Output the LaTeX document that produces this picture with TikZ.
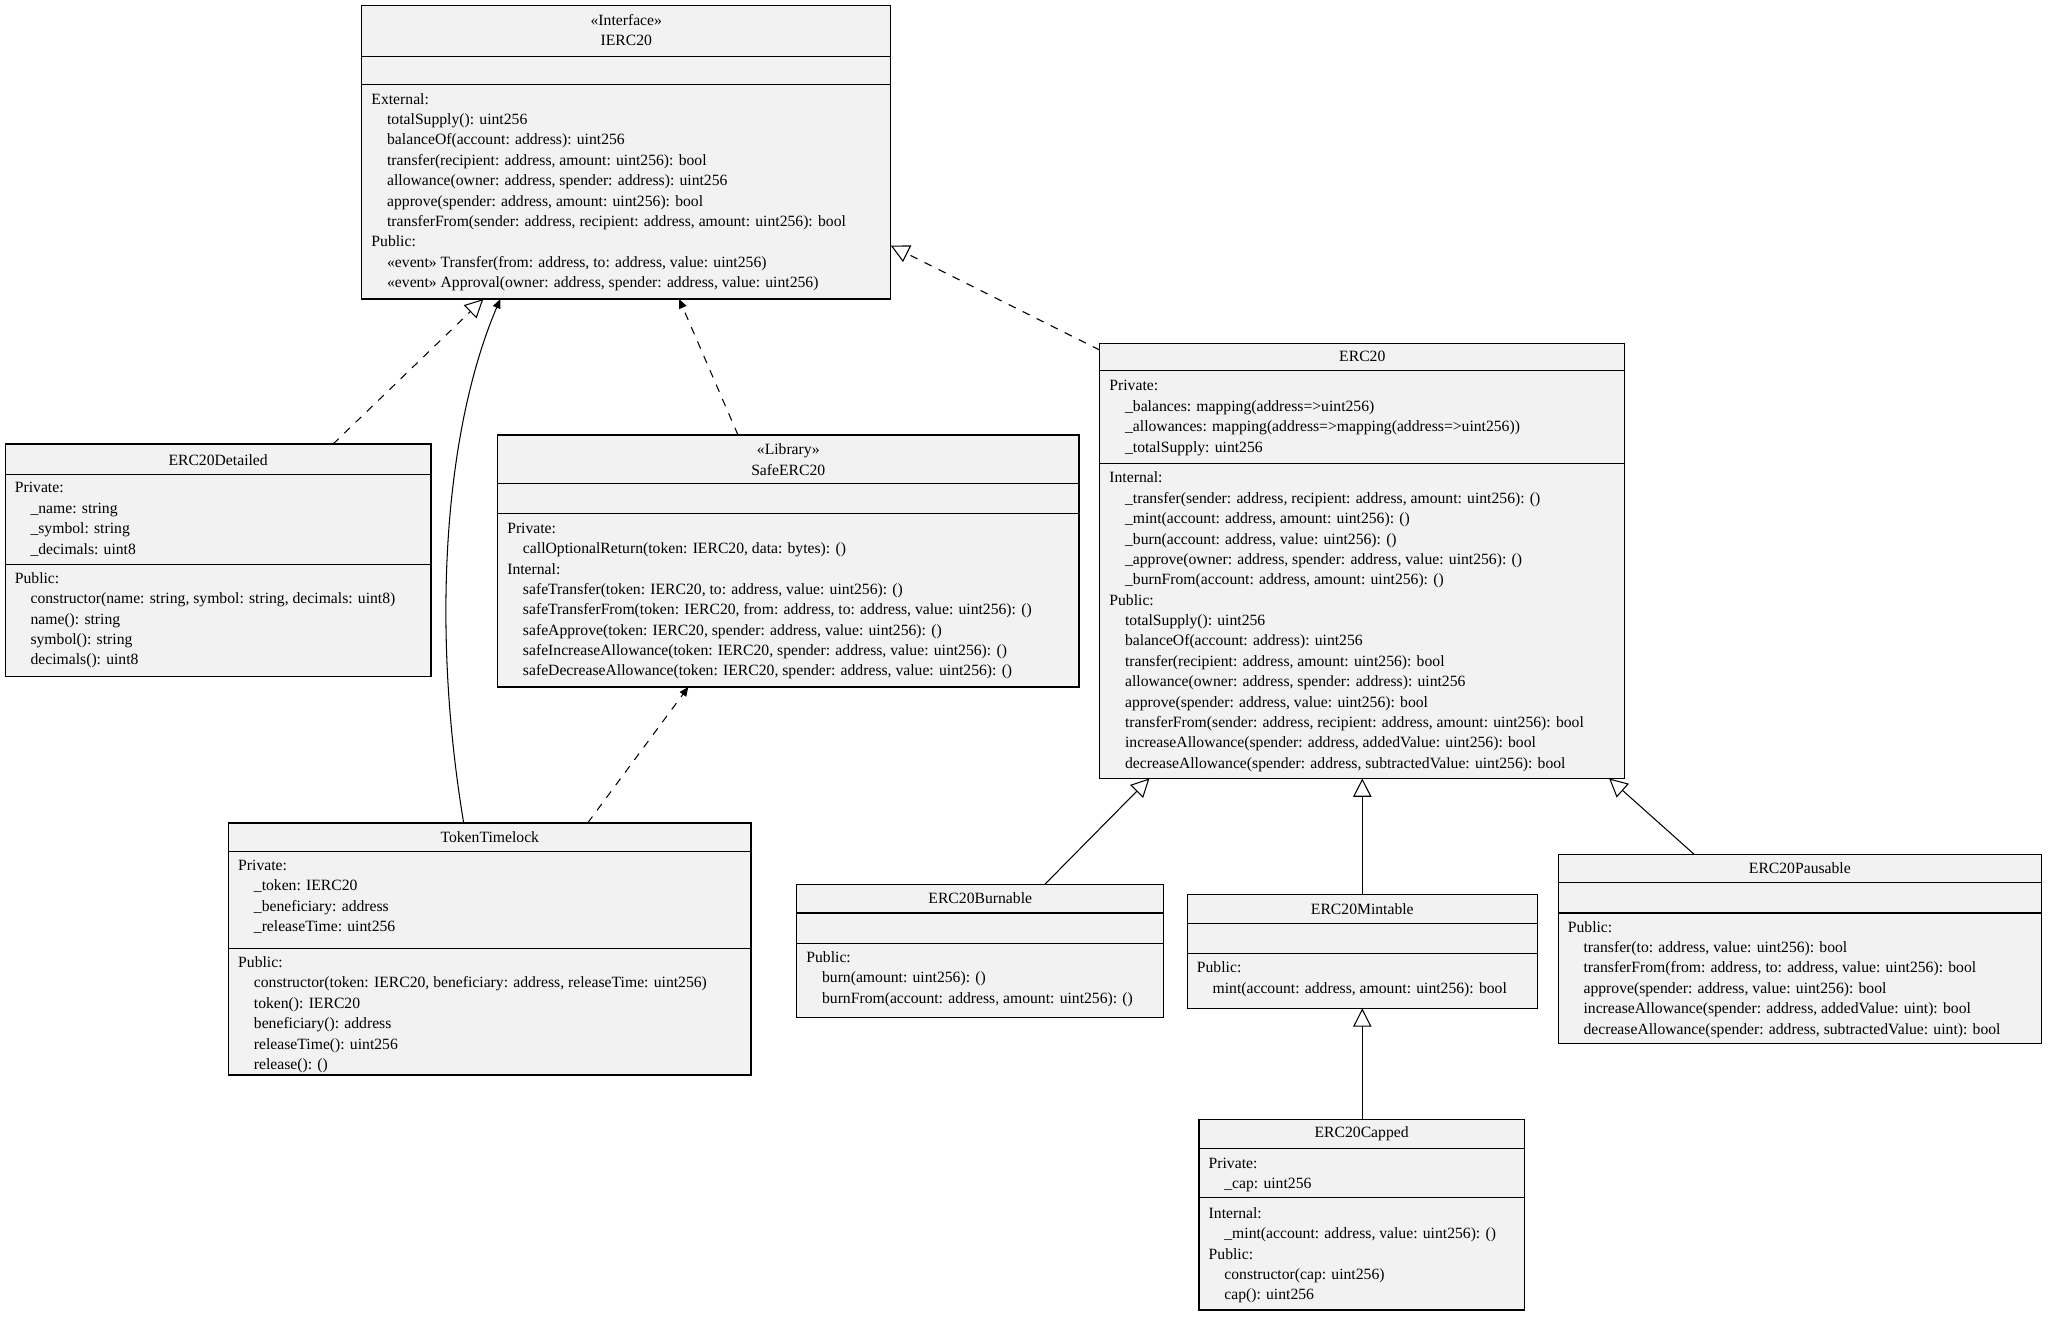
\documentclass[tikz,border=0pt]{standalone}
\usepackage{fontspec}
\setmainfont{Liberation Serif}
\usetikzlibrary{arrows.meta}
\tikzset{
  box/.style={draw, fill=gray!10, line width=0.5pt, inner sep=0pt, outer sep=0pt, anchor=north west},
  txt/.style={anchor=north west, inner sep=0pt, align=left, font=\fontsize{6}{7.8}\selectfont},
  ttl/.style={inner sep=0pt, align=center, font=\fontsize{6}{7.8}\selectfont},
  real/.style={dashed, line width=0.4pt, -{Triangle[open, length=7pt, width=7pt]}},
  inh/.style={line width=0.4pt, -{Triangle[open, length=7pt, width=7pt]}},
  dep/.style={dashed, line width=0.4pt, -{Triangle[length=3.5pt, width=3pt]}},
  assoc/.style={line width=0.4pt, -{Triangle[length=3.5pt, width=3pt]}},
}
\newcommand{\classbox}[5]{%
  \node[box, minimum width={(#4-#2)*0.5pt}, minimum height={(#5-#3)*0.5pt}] (#1) at (#2,#3) {};}
\newcommand{\divider}[2]{\draw[line width=0.4pt] (#1.west |- 0,#2) -- (#1.east |- 0,#2);}
\newcommand{\ind}{\hspace*{6pt}}
\newcommand{\st}{\textless\textless}
\newcommand{\nd}{\textgreater\textgreater}
\begin{document}
\begin{tikzpicture}[x=0.5pt, y=-0.5pt]
  \useasboundingbox (0,0) rectangle (1568,1008);

  % IERC20
  \classbox{ierc}{277}{4}{682}{229}
  \divider{ierc}{43}
  \divider{ierc}{65}
  \node[ttl] at (479.5,23) {\st Interface\nd\\IERC20};
  \node[txt] at (284,71) {External:\\
    \ind totalSupply(): uint256\\
    \ind balanceOf(account: address): uint256\\
    \ind transfer(recipient: address, amount: uint256): bool\\
    \ind allowance(owner: address, spender: address): uint256\\
    \ind approve(spender: address, amount: uint256): bool\\
    \ind transferFrom(sender: address, recipient: address, amount: uint256): bool\\
    Public:\\
    \ind\st event\nd\ Transfer(from: address, to: address, value: uint256)\\
    \ind\st event\nd\ Approval(owner: address, spender: address, value: uint256)};

  % ERC20Detailed
  \classbox{detailed}{4}{340}{330}{518}
  \divider{detailed}{363}
  \divider{detailed}{432}
  \node[ttl] at (167,352) {ERC20Detailed};
  \node[txt] at (11,369) {Private:\\
    \ind \_name: string\\
    \ind \_symbol: string\\
    \ind \_decimals: uint8};
  \node[txt] at (11,438) {Public:\\
    \ind constructor(name: string, symbol: string, decimals: uint8)\\
    \ind name(): string\\
    \ind symbol(): string\\
    \ind decimals(): uint8};

  % SafeERC20
  \classbox{safe}{381}{333}{826}{526}
  \divider{safe}{370}
  \divider{safe}{393}
  \node[ttl] at (603.5,352) {\st Library\nd\\SafeERC20};
  \node[txt] at (388,400) {Private:\\
    \ind callOptionalReturn(token: IERC20, data: bytes): ()\\
    Internal:\\
    \ind safeTransfer(token: IERC20, to: address, value: uint256): ()\\
    \ind safeTransferFrom(token: IERC20, from: address, to: address, value: uint256): ()\\
    \ind safeApprove(token: IERC20, spender: address, value: uint256): ()\\
    \ind safeIncreaseAllowance(token: IERC20, spender: address, value: uint256): ()\\
    \ind safeDecreaseAllowance(token: IERC20, spender: address, value: uint256): ()};

  % ERC20
  \classbox{erc}{842}{263}{1244}{596}
  \divider{erc}{284}
  \divider{erc}{355}
  \node[ttl] at (1043,273) {ERC20};
  \node[txt] at (849,291) {Private:\\
    \ind \_balances: mapping(address=>uint256)\\
    \ind \_allowances: mapping(address=>mapping(address=>uint256))\\
    \ind \_totalSupply: uint256};
  \node[txt] at (849,361) {Internal:\\
    \ind \_transfer(sender: address, recipient: address, amount: uint256): ()\\
    \ind \_mint(account: address, amount: uint256): ()\\
    \ind \_burn(account: address, value: uint256): ()\\
    \ind \_approve(owner: address, spender: address, value: uint256): ()\\
    \ind \_burnFrom(account: address, amount: uint256): ()\\
    Public:\\
    \ind totalSupply(): uint256\\
    \ind balanceOf(account: address): uint256\\
    \ind transfer(recipient: address, amount: uint256): bool\\
    \ind allowance(owner: address, spender: address): uint256\\
    \ind approve(spender: address, value: uint256): bool\\
    \ind transferFrom(sender: address, recipient: address, amount: uint256): bool\\
    \ind increaseAllowance(spender: address, addedValue: uint256): bool\\
    \ind decreaseAllowance(spender: address, subtractedValue: uint256): bool};

  % TokenTimelock
  \classbox{timelock}{175}{630}{575}{823}
  \divider{timelock}{652}
  \divider{timelock}{726}
  \node[ttl] at (375,641) {TokenTimelock};
  \node[txt] at (182,658) {Private:\\
    \ind \_token: IERC20\\
    \ind \_beneficiary: address\\
    \ind \_releaseTime: uint256};
  \node[txt] at (182,732) {Public:\\
    \ind constructor(token: IERC20, beneficiary: address, releaseTime: uint256)\\
    \ind token(): IERC20\\
    \ind beneficiary(): address\\
    \ind releaseTime(): uint256\\
    \ind release(): ()};

  % ERC20Burnable
  \classbox{burnable}{610}{677}{891}{779}
  \divider{burnable}{699}
  \divider{burnable}{722}
  \node[ttl] at (750.5,688) {ERC20Burnable};
  \node[txt] at (617,728) {Public:\\
    \ind burn(amount: uint256): ()\\
    \ind burnFrom(account: address, amount: uint256): ()};

  % ERC20Mintable
  \classbox{mintable}{909}{685}{1177}{772}
  \divider{mintable}{707}
  \divider{mintable}{730}
  \node[ttl] at (1043,696) {ERC20Mintable};
  \node[txt] at (916,736) {Public:\\
    \ind mint(account: address, amount: uint256): bool};

  % ERC20Pausable
  \classbox{pausable}{1193}{654}{1563}{799}
  \divider{pausable}{676}
  \divider{pausable}{699}
  \node[ttl] at (1378,665) {ERC20Pausable};
  \node[txt] at (1200,705) {Public:\\
    \ind transfer(to: address, value: uint256): bool\\
    \ind transferFrom(from: address, to: address, value: uint256): bool\\
    \ind approve(spender: address, value: uint256): bool\\
    \ind increaseAllowance(spender: address, addedValue: uint): bool\\
    \ind decreaseAllowance(spender: address, subtractedValue: uint): bool};

  % ERC20Capped
  \classbox{capped}{918}{857}{1167}{1003}
  \divider{capped}{879}
  \divider{capped}{917}
  \node[ttl] at (1042.5,868) {ERC20Capped};
  \node[txt] at (925,886) {Private:\\
    \ind \_cap: uint256};
  \node[txt] at (925,924) {Internal:\\
    \ind \_mint(account: address, value: uint256): ()\\
    Public:\\
    \ind constructor(cap: uint256)\\
    \ind cap(): uint256};

  % connectors
  \draw[real] (detailed.north -| 255,0) -- (ierc.south -| 370,0);
  \draw[assoc] (timelock.north -| 355,0) .. controls (330,480) and (340,330) .. (ierc.south -| 383,0);
  \draw[dep] (safe.north -| 565,0) -- (ierc.south -| 520,0);
  \draw[real] (erc.north west) ++(0,5) -- (ierc.east |- 0,188);
  \draw[dep] (timelock.north -| 450,0) -- (safe.south -| 527,0);
  \draw[inh] (burnable.north -| 800,0) -- (erc.south -| 880,0);
  \draw[inh] (mintable.north) -- (erc.south -| mintable.north);
  \draw[inh] (pausable.north -| 1297,0) -- (erc.south -| 1232,0);
  \draw[inh] (capped.north -| mintable.south) -- (mintable.south);
\end{tikzpicture}
\end{document}
